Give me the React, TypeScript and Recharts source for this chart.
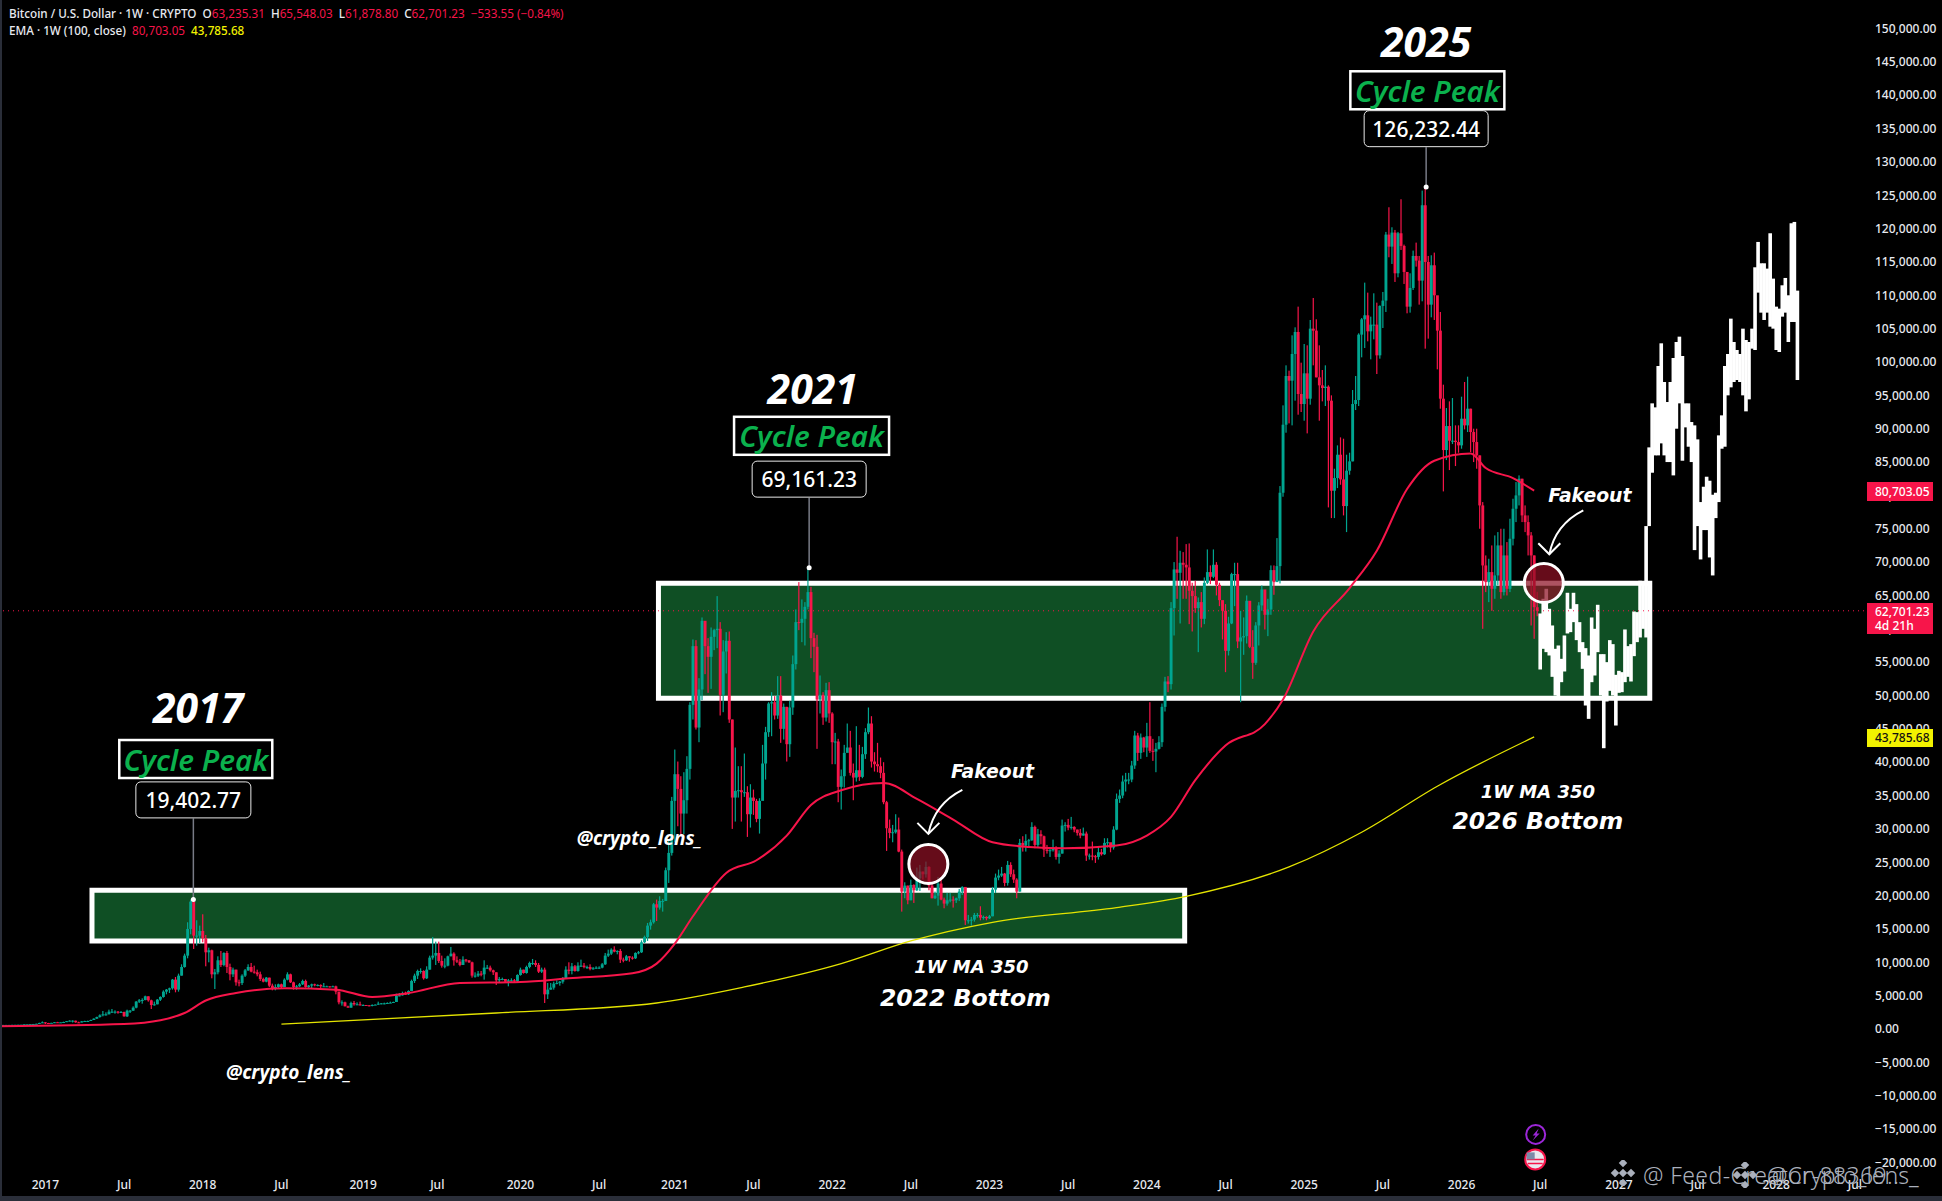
import {
  Bar, ComposedChart, Line, ReferenceArea, ReferenceDot, ReferenceLine,
  XAxis, YAxis,
} from "recharts";

// weekly candles in thousands of USD: [close, high, low]
const weeks2016 = [[.6,.62,.58],[.61,.62,.59],[.61,.62,.6],[.61,.62,.6],[.62,.64,.6],[.63,.64,.61],[.64,.66,.62],[.65,.66,.63],[.7,.74,.65],[.7,.74,.69],[.73,.75,.7],[.74,.76,.72],[.78,.8,.74],[.9,.95,.78]];
const weeks2017 = [[1,1.13,.9],[.9,1.02,.75],[.82,.92,.76],[.92,.93,.88],[1.01,1.05,.91],[1,1.07,.95],[1,1.05,.97],[1.05,1.1,1],[1.17,1.2,1.05],[1.25,1.3,1.15],[1.25,1.3,.98],[1,1.25,.95],[.97,1.1,.9],[1.15,1.2,1],[1.2,1.24,1.12],[1.2,1.26,1.15],[1.35,1.4,1.2],[1.55,1.6,1.35],[1.8,1.85,1.5],[2.05,2.2,1.7],[2.2,2.7,1.9],[2.2,2.5,2],[2.6,2.9,2.2],[2.6,3,2.4],[2.6,2.8,2.3],[2.5,2.7,2.3],[2.55,2.7,2.4],[1.9,2.6,1.85],[2.75,2.9,1.8],[2.75,2.85,2.4],[3.2,3.4,2.7],[4.1,4.2,3.1],[4.3,4.5,3.9],[4.35,4.6,3.8],[4.9,5,4.3],[4.3,4.9,4.1],[3.6,4.4,3],[3.7,4.1,3.5],[4.4,4.5,3.7],[4.8,4.9,4.2],[5.6,5.8,4.7],[5.9,6,5.2],[6.1,6.2,5.4],[7.4,7.5,5.9],[5.9,7.8,5.5],[8,8.3,5.6],[9.3,9.7,8],[11,11.3,9.2],[15,16,10.6],[19.1,19.4,14.2],[14,19.1,12],[14,16.3,12.5]];
const weeks2018 = [[14.7,15.5,12.9],[13.6,17.2,13],[11.5,14.1,9.4],[11.8,12.2,10],[8.2,11.9,7.6],[8.5,9,6],[10.3,10.9,8.2],[9.6,11.7,9.3],[11.4,11.5,9.4],[9.3,11.7,8.4],[8.2,9.8,7.3],[8.9,9.2,7.8],[7,8.9,6.5],[6.9,7.4,6.4],[8,8.2,6.6],[8.8,9,7.8],[9.3,9.7,8.7],[8.6,9.9,8.5],[8.5,9.5,8.3],[8.2,8.9,7.9],[7.5,8.6,7.2],[7.1,7.7,7],[7.7,7.8,7],[6.5,7.7,6.3],[6.1,6.8,5.8],[6.3,6.7,5.8],[6.7,6.8,6.1],[6.3,6.8,6.1],[7.4,7.6,6.3],[8.2,8.5,7.3],[7,8.3,6.9],[6.3,7.1,5.9],[6.4,6.6,5.9],[6.7,6.9,6.3],[7.2,7.4,6.6],[6.3,7.4,6.2],[6.5,6.6,6.1],[6.7,6.8,6.1],[6.6,6.8,6.4],[6.6,6.7,6.4],[6.4,6.7,6.1],[6.4,6.9,6.3],[6.4,6.5,6.3],[6.3,6.4,6.2],[6.4,6.5,6.3],[5.6,6.5,5.2],[4,5.6,3.7],[4,4.3,3.5],[3.4,4.1,3.4],[3.2,3.5,3.2],[3.9,4.1,3.2],[3.7,4.2,3.5],[3.7,4,3.6]];
const weeks2019 = [[3.6,4.1,3.5],[3.6,3.7,3.5],[3.55,3.6,3.5],[3.45,3.6,3.4],[3.6,3.7,3.4],[3.65,3.7,3.6],[3.8,4.1,3.6],[3.85,3.9,3.7],[3.85,3.95,3.7],[3.9,4,3.8],[3.95,4.1,3.9],[4.05,4.1,3.9],[5,5.3,4.1],[5.05,5.4,4.9],[5.3,5.6,5],[5.2,5.6,5.1],[5.7,5.8,5.1],[7.2,7.4,5.7],[8,8.3,6.9],[8.7,8.9,7.5],[8.7,9.1,8.3],[7.6,8.8,7.4],[8.9,9.4,7.5],[10.7,11,8.9],[11,13.8,10.4],[11.4,13.1,9.6],[10.2,13.1,9.9],[9.5,11,9.2],[9.5,10.6,9.1],[10.9,11,9.4],[11.3,12.3,10.9],[10.3,11.5,9.5],[10.1,10.9,9.9],[9.6,10.5,9.4],[10.4,10.9,9.6],[10.3,10.5,10],[10,10.3,9.9],[8,10.1,7.7],[8,8.5,7.7],[8.3,8.7,7.8],[8.2,8.7,7.9],[9.2,10.3,7.4],[9.2,9.6,9],[8.8,9.5,8.6],[8.5,8.9,8.1],[7.3,8.5,6.6],[7.5,7.8,7],[7.5,7.7,7.3],[7.1,7.4,6.9],[7.3,7.5,6.4],[7.3,7.6,7.1],[7.2,7.5,6.9]];
const weeks2020 = [[8.1,8.2,6.9],[8.9,9.2,8],[8.4,8.9,8.3],[9.3,9.5,8.3],[9.9,10.1,9.1],[9.9,10.5,9.6],[9.6,10.3,9.3],[8.6,9.9,8.4],[8.9,9.2,8.4],[5.2,9.2,3.9],[5.9,6.9,4.5],[6.2,6.9,5.9],[6.8,7.1,5.9],[6.9,7.3,6.7],[7.1,7.2,6.5],[7.5,7.8,6.8],[8.9,9.4,7.5],[8.7,10,8.2],[9.4,9.9,8.2],[8.7,9.6,8.6],[9.5,10,8.6],[9.5,10.4,9.3],[9.3,9.9,9.1],[9.3,9.5,9],[9,9.7,8.8],[9.1,9.3,8.9],[9.2,9.4,9],[9.2,9.4,9],[9.7,9.9,9.1],[11,11.4,9.6],[11.3,11.9,10.8],[11.9,12.1,11.1],[11.6,12.4,11.5],[11.7,11.8,11.2],[10.4,12,9.9],[10.3,10.7,10],[10.9,11.1,10.2],[10.7,10.9,10.1],[10.6,10.9,10.4],[11.4,11.5,10.5],[11.5,11.7,11.2],[13,13.3,11.4],[13.8,14,12.9],[15.5,15.9,13.2],[16,16.4,14.9],[18.7,18.9,15.8],[18.2,19.4,16.2],[19.2,19.9,17.9],[19.2,19.5,17.6],[23.8,24.2,19.2],[26.4,28.4,21.9],[34.2,34.8,26]];
const weeks2021 = [[38.2,41.9,28],[36,40.1,30.4],[32.3,37.9,28.9],[34.3,38.5,29.2],[39,40.9,32.3],[48.6,49,37.4],[57.4,58.4,46.4],[45.2,58.3,44.9],[50.9,52.6,43],[61.2,61.7,49.3],[57.4,61,53.2],[55.8,58.6,50.4],[58.8,60.2,51],[59.8,60,56.8],[60,64.9,57.1],[50.1,61,47],[56.6,58.3,47.5],[58.2,59.5,53.3],[46.4,59.6,45.9],[34.7,46.4,30],[35.7,42.2,31.1],[35.8,39.4,34.7],[35.5,39.4,31.1],[35.5,41.3,34.8],[32.2,36.4,28.8],[34.7,36.7,30.2],[34.2,35.9,32.1],[31.5,34.5,31],[34.2,34.6,29.3],[39.8,42.6,34.4],[44.5,45.3,37.4],[48.8,49,43.8],[49,50.5,43.9],[47,49.9,46.4],[50,52.9,46.5],[45,52.9,42.9],[48.3,48.8,43.4],[42.7,48.3,40.1],[48.2,49.2,40.8],[54.7,56,47.1],[61,62.9,53.9],[60.9,67,59.8],[61.5,64.4,58],[63.3,64,57.5],[65.5,69.2,62.9],[58.6,66.3,55.6],[57.3,59.4,53.5],[49.4,59.1,42],[50.1,53,47.3],[46.7,50.5,45.6],[50.8,51.9,46.1],[47.3,52,45.9]];
const weeks2022 = [[43,47.5,39.7],[43.1,44.4,39.7],[36.3,43.5,34],[37.9,38.9,32.9],[41.4,42.6,36.2],[42.2,45.8,41.6],[38.4,44.7,38],[37.7,39.8,34.3],[38.8,45.4,37.1],[37.8,42.6,37.2],[41.2,42.3,37.6],[44.5,45.1,40.5],[45.8,48.2,44.2],[40.1,46.9,39.2],[39.7,41.5,38.6],[39.4,42.9,38.5],[38.4,40.7,37.6],[34,40,33.7],[30.1,34.2,26.7],[29.4,31.4,28.6],[29.5,30.6,28],[29.9,32.2,29.3],[26.6,31.7,26.5],[20.6,26.9,17.6],[21.5,22,19.6],[19.3,21.5,18.7],[21.6,22.4,19.3],[20.8,21.7,18.9],[22.6,24.2,20.7],[23.6,24.6,20.7],[23.2,23.6,22.4],[24.3,25.1,22.7],[21.5,24.4,20.8],[19.6,21.8,19.6],[20,20.6,19.5],[21.8,22.8,18.5],[19.4,22.7,19.3],[18.8,19.7,18.1],[19.3,20.4,18.5],[19.4,20.4,19],[19.3,19.9,18.2],[19.6,19.7,18.9],[20.6,21,19.2],[21.3,21.4,20.1],[16.3,21,15.6],[16.3,17.1,15.8],[16.4,16.8,15.5],[17.1,17.4,16.1],[17.1,17.4,16.7],[16.7,18.4,16.3],[16.8,17,16.4],[16.6,16.9,16.3]];
const weeks2023 = [[16.9,17.1,16.5],[20.9,21.3,16.9],[22.7,23.3,20.4],[23,23.9,22.3],[23.3,24.3,22.8],[21.9,23.4,21.4],[24.6,25.2,21.5],[23.2,25,22.8],[22.4,23.9,21.9],[20.6,22.6,19.6],[27.9,28.5,20.6],[27.5,28.9,26.6],[28.2,29.2,26.6],[28.3,28.5,27.3],[30.3,31,28.2],[27.6,30.5,27.1],[29.2,30,27.2],[28.9,29.8,27.7],[26.9,29,25.8],[26.7,27.6,26.3],[26.8,27.2,25.8],[27,28.4,26.6],[25.8,27.4,25.4],[26.3,26.8,24.8],[30.5,31.4,26.3],[30.6,31,29.6],[30.2,31.5,29.8],[30.3,31.8,29.9],[29.9,30.4,29.5],[29.4,29.9,29],[29,30,28.6],[29.3,30.2,29],[26,29.6,25.2],[26,26.3,25.4],[25.9,28.1,25.3],[25.8,26.1,24.9],[26.5,27.4,25.4],[26.2,27,26],[27.9,28.6,26.1],[28,28.6,27.2],[27.2,27.8,26.5],[29.9,30.4,26.9],[34.5,35.3,29.8],[35,35.9,33.9],[37.1,38,34.6],[37.4,38.4,35.6],[37.4,38.4,36.7],[39.5,40.2,37],[44,44.7,39],[41.4,44.4,40.2],[43.7,44.3,40.5],[42.2,43.8,41.5]];
const weeks2024 = [[43.9,45.9,40.8],[41.7,49,41.4],[41.6,43.5,40.2],[42,42.9,38.5],[43,43.9,41.9],[48.3,48.8,42.3],[52.1,52.8,47.6],[51.7,52.9,50.5],[63.1,64,50.9],[68.9,70,59],[68.4,73.8,64.5],[69.9,71.7,60.8],[69.6,71.5,64.5],[69.2,72.7,64.5],[65.7,72.8,60.7],[64.9,66.9,59.6],[63.1,67.2,62.4],[64,64.7,56.5],[61.5,65.5,60.2],[66.9,67.7,60.7],[68.5,71.9,66.7],[67.8,69.5,66.7],[69.6,71.9,67.6],[66.6,70,65],[64.3,66.9,63.4],[62.7,63.4,58.4],[56.7,63.7,53.5],[60.8,61.8,56],[68.2,68.4,60.7],[68.2,69.9,63.4],[58.1,69.9,57.1],[58.7,62.7,49],[58.9,61.7,56.1],[64.2,65,57.8],[57.3,64,57.1],[54.9,59.8,52.5],[60.5,61,54.6],[63.5,64,57.5],[65.9,66.5,62.7],[62.1,65.6,59.9],[62.9,64.5,58.9],[68.8,69.5,62.1],[67,69.5,65.1],[69.4,73.6,67.5],[80.4,81.4,66.8],[90.6,93.5,79.8],[97.9,99.5,89.4],[97.2,98.7,90.8],[101.2,104,90.5],[104.5,105.2,94.2],[95.2,108.3,92.1],[93.7,99.9,92.5]];
const weeks2025 = [[98.3,102.7,91.2],[94.5,102.5,89.3],[105,106.3,93.6],[104.7,109.6,99.5],[97.7,106.4,97.7],[96.5,102.5,91.2],[96.1,98.8,94.1],[96.3,99.5,93.4],[94.2,96.5,78.2],[80.7,95,76.6],[82.6,84,76.6],[86.1,87.5,81.1],[82.4,88.7,81.6],[78.4,88.5,77],[83.7,86.1,74.5],[85.1,86.4,83.1],[93.7,95.8,85.1],[94.3,97.9,92.8],[104.1,104.3,93.4],[106.4,106.6,100.7],[107,111.9,102.1],[104.6,110.4,103.1],[105.6,106.8,100.4],[105.6,110.3,103.4],[101,108.9,98.2],[108.4,108.5,100.5],[109.2,110.5,105.1],[119.1,119.5,107.5],[117.3,123.2,115.7],[119.4,120.2,114.7],[113.3,119.8,112],[119.3,119.5,112.7],[117.4,124.4,116.8],[113.5,117.6,111.7],[108.3,113.4,107.3],[111.1,113.3,107.4],[115.9,116.7,110.8],[115.2,117.9,114.3],[112.2,115.9,108.6],[123.5,125.7,109.1],[115,126.2,102],[108.6,115.9,103.5],[114.5,116,106.7],[110,116.4,106.3],[104.7,107.3,98.9],[94.5,107.5,93],[86.8,96.6,80.6],[90.4,93.1,85.3],[88.2,94.1,83.8],[88.2,94.6,87.7],[88,90.5,84.4],[87.5,90.5,86.4]];
const weeks2026 = [[91.5,94.8,87],[90.5,97,89.9],[93,97.8,89.5],[89.5,93,86.5],[88,90,85],[86,90,84],[78.5,86,75],[69.5,79,60],[67,71,65.5],[68.5,70.5,64],[66,72.5,62.7],[68,74,64.5],[72.5,74.5,66.5],[65.5,75,64.5],[71,75,65],[66,73,65],[73.5,76.5,65.5],[78,79.5,72.5],[80,82,76],[82.5,83,78.5],[77,82.5,76],[76,78.5,74.5],[74,77,71],[71,74.5,60.5],[63.235,71,58.5],[62.701,65.548,61.879]];

// white overlay after the last real candle, thousands of USD: [high, low]
const projectedWeeks = [[62.3,53.9],[64.5,57],[66,56.5],[63,56],[60.5,52.8],[57,50],[57.5,49.8],[55.5,52],[59,53.6],[65.4,59.3],[63,59.5],[65.4,61],[63.7,58.3],[61,56.5],[58,54],[57.1,48.5],[56,46.5],[61.7,52],[60,53],[63.6,56.5],[56.2,50],[56.2,42.1],[55,49.1],[58.3,50.7],[57.7,50],[53.1,45.5],[53.7,50.4],[53.5,50.5],[59.9,52],[57.4,52.8],[57.7,52.1],[62.6,55.9],[62.5,58],[67.2,58.7],[67,60],[75.4,58.7],[87.2,75.4],[93.8,83.4],[93.2,86],[99.4,86],[102.8,87.8],[97,86],[94,85],[97,85],[100.6,83],[103,90],[103.8,93.8],[100.9,85.2],[93.8,90.2],[93.8,87.3],[91,85],[90.5,71.8],[88.4,75.4],[79,70.4],[81.3,74.8],[82.8,74.8],[82.2,70.7],[80.1,68],[80.4,76.6],[89,79],[92,87],[99.4,87.3],[101.2,95],[106.5,96.2],[103,97],[101.8,97.3],[101.2,97],[105,95],[103.3,92.6],[103,94.4],[105,102],[114.2,101.8],[118,110.4],[114.8,107.4],[114.8,106.3],[114,107.4],[119.3,105.3],[112.5,105],[108.3,101.8],[108,101.5],[111.5,106.8],[112.6,107.4],[110,103],[120.8,106],[121,106],[110.7,97.3]];

const emaWeeks = [0,41,53,61,68,78,94,111,123,135,152,172,188,209,217,223,229,240,250,260,268,278,292,303,315,328,340,352,369,379,387,395,405,418,424,434,446,455,465,474,486,491,500,507];
const emaValues = [400,740,1300,2400,4270,5400,6100,5900,4800,5400,6900,7050,7600,8350,9800,12800,16900,23400,25300,29000,33600,35800,36900,34500,31400,28000,27300,27100,27500,29000,31800,37300,42500,45700,49400,59600,66100,71700,80950,85200,86300,84100,82600,80703];
const maWeeks = [93,164,217,246,278,301,328,369,392,426,450,475,507];
const maValues = [740,2400,3900,6300,9800,13200,16000,18200,19900,24300,29500,36400,43785];

const priceTicks = [150000,145000,140000,135000,130000,125000,120000,115000,110000,105000,100000,95000,90000,85000,80000,75000,70000,65000,60000,55000,50000,45000,40000,35000,30000,25000,20000,15000,10000,5000,0,-5000,-10000,-15000,-20000];
const timeTickWeeks = [15,41,67,93,120,144.5,172,198,223,249,275,301,327,353,379,405,431,457,483,509,535,561,587,613];
const timeTickLabels = ["2017","Jul","2018","Jul","2019","Jul","2020","Jul","2021","Jul","2022","Jul","2023","Jul","2024","Jul","2025","Jul","2026","Jul","2027","Jul","2028","Jul"];

const RED = "#f7154a";
const TEAL = "#00a590";
const GREEN_ZONE = "#0f4f24";
const TITLE_FONT = "'Noto Sans', sans-serif";
const NOTE_FONT = "'DejaVu Sans', sans-serif";

const history = [...weeks2016, ...weeks2017, ...weeks2018, ...weeks2019, ...weeks2020, ...weeks2021, ...weeks2022, ...weeks2023, ...weeks2024, ...weeks2025, ...weeks2026];

const rows: any[] = history.map(([close, high, low], i) => ({
  week: i,
  range: [low * 1000, high * 1000],
  close: close * 1000,
  open: (i ? history[i - 1][0] : close) * 1000,
}));
projectedWeeks.forEach(([high, low]) => {
  rows.push({ week: rows.length, range: [low * 1000, high * 1000], ghost: true });
});
emaWeeks.forEach((w, i) => { rows[w].ema = emaValues[i]; });
maWeeks.forEach((w, i) => { rows[w].ma = maValues[i]; });

function fmtPrice(v: number) {
  const s = Math.abs(v).toLocaleString("en-US", { minimumFractionDigits: 2, maximumFractionDigits: 2 });
  return v < 0 ? `\u2212${s}` : s;
}

function fmtTime(v: number) {
  return timeTickLabels[timeTickWeeks.indexOf(v)] ?? "";
}

function Candle({ x, y, width, height, payload }: any) {
  const mid = x + width / 2;
  if (payload.ghost) return <rect x={mid - 1.8} y={y} width={3.6} height={height} fill="#fff" />;
  const [low, high] = payload.range;
  const k = high > low ? height / (high - low) : 0;
  const top = y + (high - Math.max(payload.open, payload.close)) * k;
  const size = Math.max(Math.abs(payload.open - payload.close) * k, 1);
  const color = payload.close >= payload.open ? TEAL : RED;
  return (
    <g>
      <rect x={mid - 0.6} y={y} width={1.2} height={height} fill={color} />
      <rect x={mid - 1.4} y={top} width={2.9} height={size} fill={color} />
    </g>
  );
}

function textDot(value: string, font: string, size: number, weight: number, fill = "#fff") {
  return ({ cx, cy }: any) => (
    <text x={cx} y={cy} textAnchor="middle" dominantBaseline="central" fill={fill}
      fontFamily={font} fontSize={size} fontWeight={weight} fontStyle="italic">{value}</text>
  );
}

function boxDot(value: string, w: number, h: number) {
  return ({ cx, cy }: any) => (
    <g>
      <rect x={cx - w / 2} y={cy - h / 2} width={w} height={h} fill="#000" stroke="#fff" strokeWidth={2.5} />
      <text x={cx} y={cy} textAnchor="middle" dominantBaseline="central" fill="#0bb14d"
        fontFamily={TITLE_FONT} fontSize={29.5} fontWeight={600} fontStyle="italic">{value}</text>
    </g>
  );
}

function valueDot(value: string, w: number) {
  return ({ cx, cy }: any) => (
    <g>
      <rect x={cx - w / 2} y={cy - 18} width={w} height={36} rx={5} fill="#000" stroke="#e8e8e8" strokeWidth={1} />
      <text x={cx} y={cy} textAnchor="middle" dominantBaseline="central" fill="#fff"
        fontFamily={TITLE_FONT} fontSize={21} fontWeight={500}>{value}</text>
    </g>
  );
}

function arrowDot({ cx, cy }: any) {
  return (
    <g fill="none" stroke="#fff" strokeWidth={2}>
      <path d={`M${cx + 34} ${cy - 44} Q${cx + 6} ${cy - 30} ${cx} ${cy}`} />
      <path d={`M${cx - 11} ${cy - 11} L${cx} ${cy} L${cx + 11} ${cy - 11}`} />
    </g>
  );
}

function circleDot({ cx, cy }: any) {
  return <circle cx={cx} cy={cy} r={19.5} fill="#8d1024" fillOpacity={0.72} stroke="#fff" strokeWidth={3} />;
}

function EventIcons({ cx, cy }: any) {
  return (
    <g>
      <circle cx={cx} cy={cy} r={9.5} fill="#000" stroke="#9c27d8" strokeWidth={2} />
      <path d={`M${cx + 3} ${cy - 6} L${cx - 3} ${cy + 1} L${cx} ${cy + 1} L${cx - 3} ${cy + 6} L${cx + 4} ${cy - 1} L${cx + 1} ${cy - 1} Z`} fill="#9c27d8" />
      <circle cx={cx - 0.5} cy={cy + 25} r={10} fill="#e8e8ef" stroke={RED} strokeWidth={2} />
      <path d={`M${cx - 9} ${cy + 25} H${cx + 8} M${cx - 8} ${cy + 29} H${cx + 7}`} stroke={RED} strokeWidth={1.5} />
      <rect x={cx - 9} y={cy + 18} width={8} height={7} fill="#7c8aa8" />
    </g>
  );
}

function PriceTag({ top, height, bg, color, lines }: { top: number; height: number; bg: string; color: string; lines: string[] }) {
  return (
    <div style={{ position: "absolute", left: 1867, top, width: 66, height, background: bg, color, boxSizing: "border-box", paddingLeft: 8, fontFamily: TITLE_FONT, fontSize: 12, fontWeight: 500, lineHeight: lines.length > 1 ? "14px" : `${height}px`, paddingTop: lines.length > 1 ? 2 : 0 }}>
      {lines.map((t) => <div key={t}>{t}</div>)}
    </div>
  );
}

function Diamond({ left, top }: { left: number; top: number }) {
  const cell = [[13, 3], [5, 13], [21, 13], [13, 13], [13, 23]];
  return (
    <svg style={{ position: "absolute", left, top }} width={26} height={26}>
      {cell.map(([x, y]) => (
        <rect key={`${x}-${y}`} x={x - 3} y={y - 3} width={6} height={6} fill="#aab0bc" transform={`rotate(45 ${x} ${y})`} />
      ))}
    </svg>
  );
}

function Watermark() {
  return (
    <div style={{ position: "absolute", left: 0, top: 0, pointerEvents: "none", fontFamily: TITLE_FONT, color: "#aab0bc", fontSize: 23, fontWeight: 300, whiteSpace: "nowrap", lineHeight: "30px" }}>
      <Diamond left={1610} top={1160} />
      <span style={{ position: "absolute", left: 1643, top: 1160, letterSpacing: 0.4 }}>@ Feed-Creator-88369..</span>
      <Diamond left={1732} top={1162} />
      <span style={{ position: "absolute", left: 1767, top: 1160 }}>@Crypto_lens_</span>
    </div>
  );
}

function Header() {
  const base = { position: "absolute" as const, left: 9, whiteSpace: "pre" as const, fontFamily: TITLE_FONT, fontSize: 11.7, fontWeight: 500, lineHeight: "16px", color: "#e8eaf0" };
  const red = { color: RED, fontWeight: 400 };
  return (
    <>
      <div style={{ ...base, top: 5 }}>
        Bitcoin / U.S. Dollar · 1W · CRYPTO  O<span style={red}>63,235.31</span>  H<span style={red}>65,548.03</span>  L<span style={red}>61,878.80</span>  C<span style={red}>62,701.23</span>  <span style={red}>−533.55 (−0.84%)</span>
      </div>
      <div style={{ ...base, top: 22 }}>
        EMA · 1W (100, close)  <span style={red}>80,703.05</span>  <span style={{ color: "#f2f200" }}>43,785.68</span>
      </div>
    </>
  );
}

export default function App() {
  const tickStyle = { fill: "#e8eaf0", fontSize: 12, fontWeight: 500, fontFamily: TITLE_FONT };
  return (
    <div style={{ position: "absolute", left: 0, top: 0, width: 1942, height: 1201, background: "#000", overflow: "hidden" }}>
      <ComposedChart width={1942} height={1201} data={rows} margin={{ top: 0, right: 0, bottom: 0, left: 0 }}>
        <XAxis
          dataKey="week" type="number" domain={[0, 616]} ticks={timeTickWeeks} interval={0}
          tickFormatter={fmtTime} tick={tickStyle} tickLine={false} axisLine={false} height={31} tickMargin={4}
        />
        <YAxis
          orientation="right" type="number" domain={[-21139, 154273]} ticks={priceTicks} interval={0}
          tickFormatter={fmtPrice} tick={tickStyle} tickLine={false} axisLine={false} width={78} tickMargin={5}
          allowDataOverflow
        />
        <ReferenceArea x1={30.4} x2={391.5} y1={13180} y2={20800} fill={GREEN_ZONE} fillOpacity={1} stroke="#fff" strokeWidth={5} />
        <ReferenceArea x1={217.6} x2={545.2} y1={49570} y2={66840} fill={GREEN_ZONE} fillOpacity={1} stroke="#fff" strokeWidth={5} />
        <ReferenceLine y={62701} stroke={RED} strokeDasharray="1 4" />
        <Bar dataKey="range" barSize={3} shape={Candle} isAnimationActive={false} />
        <Line dataKey="ema" type="monotone" stroke={RED} strokeWidth={2} dot={false} connectNulls isAnimationActive={false} />
        <Line dataKey="ma" type="monotone" stroke="#e4e400" strokeWidth={1.3} dot={false} connectNulls isAnimationActive={false} />

        <ReferenceLine segment={[{ x: 63.9, y: 19402 }, { x: 63.9, y: 31564 }]} stroke="#787b86" strokeWidth={1.5} />
        <ReferenceLine segment={[{ x: 267.4, y: 69161 }, { x: 267.4, y: 79652 }]} stroke="#787b86" strokeWidth={1.5} />
        <ReferenceLine segment={[{ x: 471.3, y: 126232 }, { x: 471.3, y: 132197 }]} stroke="#787b86" strokeWidth={1.5} />
        <ReferenceDot x={63.9} y={19402} r={2.5} fill="#fff" stroke="none" />
        <ReferenceDot x={267.4} y={69161} r={2.5} fill="#fff" stroke="none" />
        <ReferenceDot x={471.3} y={126232} r={2.5} fill="#fff" stroke="none" />

        <ReferenceDot x={65.5} y={48274} shape={textDot("2017", TITLE_FONT, 41, 700)} />
        <ReferenceDot x={64.7} y={40476} shape={boxDot("Cycle Peak", 153, 38)} />
        <ReferenceDot x={63.9} y={34349} shape={valueDot("19,402.77", 115)} />
        <ReferenceDot x={268.6} y={96177} shape={textDot("2021", TITLE_FONT, 41, 700)} />
        <ReferenceDot x={268.2} y={88936} shape={boxDot("Cycle Peak", 155, 38)} />
        <ReferenceDot x={267.4} y={82437} shape={valueDot("69,161.23", 114)} />
        <ReferenceDot x={471.3} y={148165} shape={textDot("2025", TITLE_FONT, 41, 700)} />
        <ReferenceDot x={471.7} y={140738} shape={boxDot("Cycle Peak", 154, 38)} />
        <ReferenceDot x={471.3} y={134982} shape={valueDot("126,232.44", 124)} />

        <ReferenceDot x={211.3} y={28593} shape={textDot("@crypto_lens_", TITLE_FONT, 19, 700)} />
        <ReferenceDot x={95.4} y={-6498} shape={textDot("@crypto_lens_", TITLE_FONT, 19, 700)} />
        <ReferenceDot x={321} y={9300} shape={textDot("1W MA 350", NOTE_FONT, 18, 700)} />
        <ReferenceDot x={319} y={4650} shape={textDot("2022 Bottom", NOTE_FONT, 23.5, 700)} />
        <ReferenceDot x={508.2} y={35650} shape={textDot("1W MA 350", NOTE_FONT, 18, 700)} />
        <ReferenceDot x={508.2} y={31200} shape={textDot("2026 Bottom", NOTE_FONT, 23.5, 700)} />
        <ReferenceDot x={328} y={38650} shape={textDot("Fakeout", NOTE_FONT, 18.8, 700)} />
        <ReferenceDot x={525.4} y={80050} shape={textDot("Fakeout", NOTE_FONT, 18.8, 700)} />

        <ReferenceDot x={306.8} y={24738} shape={circleDot} />
        <ReferenceDot x={510.2} y={66867} shape={circleDot} />
        <ReferenceDot x={306.8} y={29250} shape={arrowDot} />
        <ReferenceDot x={512} y={71170} shape={arrowDot} />
        <ReferenceDot x={507.5} y={-15800} shape={EventIcons} />
      </ComposedChart>
      <PriceTag top={482} height={19} bg={RED} color="#fff" lines={["80,703.05"]} />
      <PriceTag top={603} height={31} bg={RED} color="#fff" lines={["62,701.23", "4d 21h"]} />
      <PriceTag top={729} height={18} bg="#f2f200" color="#111" lines={["43,785.68"]} />
      <Header />
      <Watermark />
      <div style={{ position: "absolute", left: 0, top: 0, width: 2, height: 1201, background: "#2a2e39" }} />
      <div style={{ position: "absolute", left: 0, top: 1196, width: 1942, height: 5, background: "#2a2e39" }} />
    </div>
  );
}
